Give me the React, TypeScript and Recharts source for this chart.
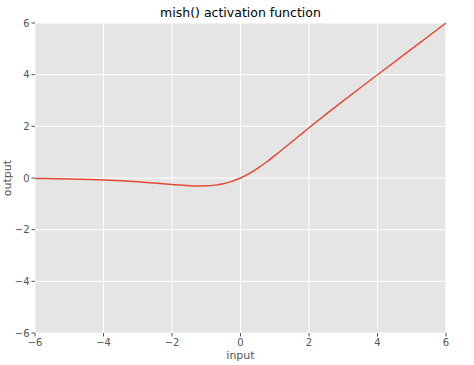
import React from "react";
import { LineChart, Line, XAxis, YAxis, CartesianGrid } from "recharts";

const inputs = [-6, -5, -4, -3, -2.5, -2, -1.5, -1.25, -1, -0.75, -0.5, -0.25, 0, 0.25, 0.5, 0.75, 1, 1.5, 2, 2.5, 3, 3.5, 4, 5, 6];
const outputs = [-0.015, -0.034, -0.073, -0.146, -0.197, -0.253, -0.298, -0.308, -0.303, -0.276, -0.221, -0.13, 0, 0.17, 0.375, 0.61, 0.865, 1.403, 1.944, 2.472, 2.987, 3.494, 3.997, 5.0, 6.0];
const xTicks = [-6, -4, -2, 0, 2, 4, 6];
const yTicks = [-6, -4, -2, 0, 2, 4, 6];

const data = inputs.map((x, i) => ({ x, y: outputs[i] }));
const fmt = (v: number) => String(v).replace("-", "\u2212");
const font = "'DejaVu Sans', sans-serif";

export default function App() {
  return (
    <div style={{ position: "absolute", left: 0, top: 0, width: 474, height: 365, background: "#fff", fontFamily: font }}>
      <div style={{ position: "absolute", left: 35, width: 411, top: 5, textAlign: "center", fontSize: 12.5, color: "#000", lineHeight: "16px" }}>
        mish() activation function
      </div>
      <LineChart width={474} height={365} data={data} margin={{ top: 23, right: 28, bottom: 0, left: 0 }}>
        <CartesianGrid fill="#E5E5E5" stroke="#ffffff" strokeWidth={1} horizontalValues={yTicks} verticalValues={xTicks} />
        <XAxis
          dataKey="x"
          type="number"
          domain={[-6, 6]}
          ticks={xTicks}
          tickFormatter={fmt}
          axisLine={false}
          tickLine={{ stroke: "#555" }}
          tickSize={3.5}
          tick={{ fill: "#555", fontSize: 10, fontFamily: font }}
          height={32}
        />
        <YAxis
          type="number"
          domain={[-6, 6]}
          ticks={yTicks}
          tickFormatter={fmt}
          axisLine={false}
          tickLine={{ stroke: "#555" }}
          tickSize={3.5}
          tick={{ fill: "#555", fontSize: 10, fontFamily: font }}
          width={35}
        />
        <Line dataKey="y" type="monotone" stroke="#E24A33" strokeWidth={1.5} dot={false} isAnimationActive={false} />
      </LineChart>
      <div style={{ position: "absolute", left: 35, width: 411, top: 349, textAlign: "center", fontSize: 11, color: "#555", lineHeight: "14px" }}>
        input
      </div>
      <div style={{ position: "absolute", left: 8, top: 178, width: 0, height: 0 }}>
        <div style={{ position: "absolute", left: -30, top: -7, width: 60, textAlign: "center", fontSize: 11, color: "#555", lineHeight: "14px", transform: "rotate(-90deg)" }}>
          output
        </div>
      </div>
    </div>
  );
}
